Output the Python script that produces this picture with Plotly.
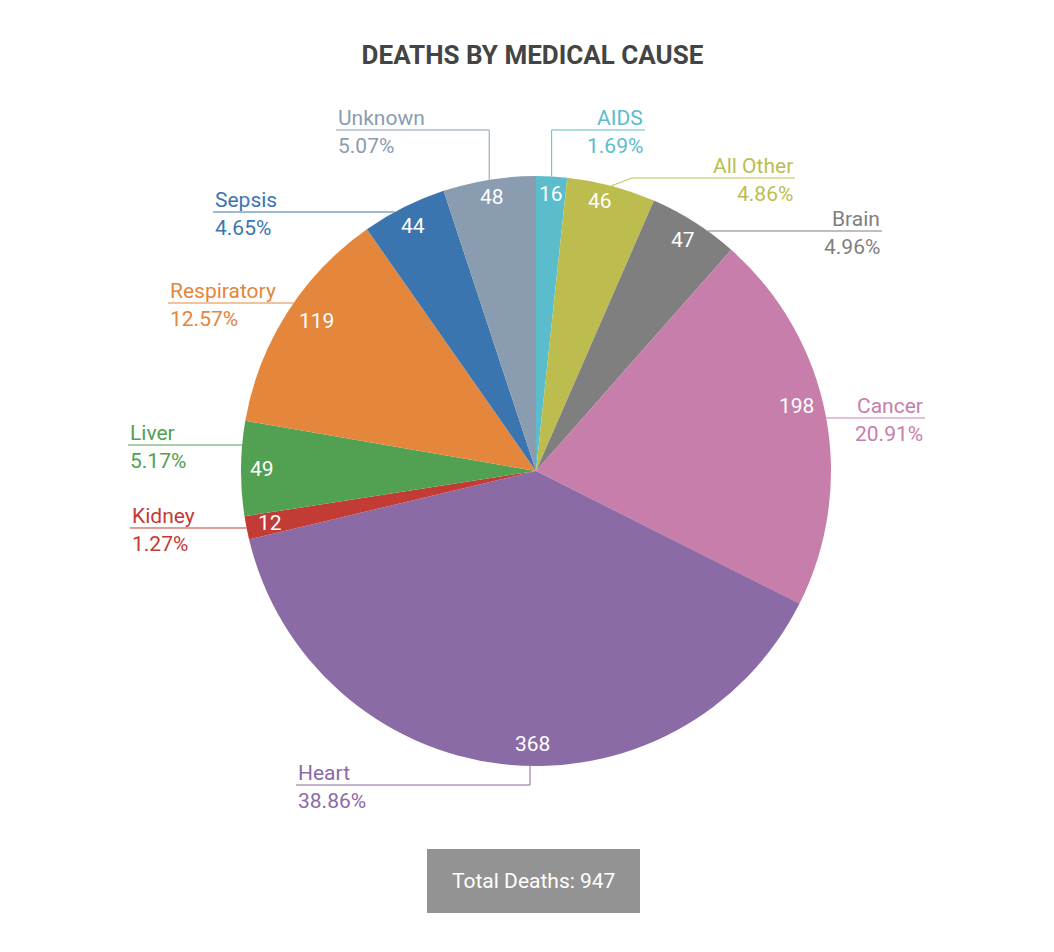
import math
import plotly.graph_objects as go

W, H = 1054, 952

# ---- data ----
categories = ["AIDS", "All Other", "Brain", "Cancer", "Heart", "Kidney",
              "Liver", "Respiratory", "Sepsis", "Unknown"]
values = [16, 46, 47, 198, 368, 12, 49, 119, 44, 48]
colors = ["#5bbccc", "#bdbd4f", "#7f7f7f", "#c87eab", "#8b6ba6", "#c23b35",
          "#52a052", "#e4863b", "#3a75b0", "#8a9caf"]
title_text = "DEATHS BY MEDICAL CAUSE"

# ---- layout / styling ----
CX, CY, R = 536, 471, 295          # pie centre and radius in px
value_rf = [0.94, 0.94, 0.93, 0.91, 0.925, 0.92, 0.93, 0.90, 0.93, 0.94]
value_angle_shift = [0, -1.5, 0, -3, -6, 0, 0, 2, 0, 0]
# side, text x (px), underline y (px), connector kind, anchor x override
label_layout = {
    "AIDS":        ("right", 645, 130, "vertical", None),
    "All Other":   ("right", 795, 178, "diagonal", 632),
    "Brain":       ("right", 882, 231, "horizontal", None),
    "Cancer":      ("right", 925, 418, "horizontal", None),
    "Heart":       ("left", 296, 785, "vertical", 530),
    "Kidney":      ("left", 130, 528, "horizontal", None),
    "Liver":       ("left", 128, 445, "horizontal", None),
    "Respiratory": ("left", 168, 303, "horizontal", None),
    "Sepsis":      ("left", 213, 212, "horizontal", None),
    "Unknown":     ("left", 336, 130, "vertical", None),
}
FONT = "Roboto"
FS = 21


def px(x):
    return x / W


def py(y):
    return 1 - y / H


total = sum(values)

fig = go.Figure(go.Pie(
    labels=categories, values=values, sort=False, direction="clockwise",
    rotation=0, marker=dict(colors=colors, line=dict(width=0)),
    textinfo="none", hoverinfo="label+value+percent", showlegend=False,
    domain=dict(x=[px(CX - R), px(CX + R)], y=[py(CY + R), py(CY - R)]),
))

annotations = []
shapes = []

cum = 0
for i, (cat, v) in enumerate(zip(categories, values)):
    a0 = cum / total * 360
    cum += v
    a1 = cum / total * 360
    mid = math.radians((a0 + a1) / 2)
    col = colors[i]
    # value inside slice
    va = math.radians((a0 + a1) / 2 + value_angle_shift[i])
    rr = value_rf[i] * R
    vx = CX + rr * math.sin(va)
    vy = CY - rr * math.cos(va)
    annotations.append(dict(x=px(vx), y=py(vy), xref="paper", yref="paper",
                            text=str(v), showarrow=False,
                            font=dict(family=FONT, size=FS, color="white"),
                            xanchor="center", yanchor="middle"))
    # outside label
    side, tx, ly, kind, ax_override = label_layout[cat]
    pct = f"{v / total * 100:.2f}%"
    xanchor = "left" if side == "left" else "right"
    annotations.append(dict(x=px(tx), y=py(ly + 2), xref="paper", yref="paper",
                            text=cat, showarrow=False,
                            font=dict(family=FONT, size=FS, color=col),
                            xanchor=xanchor, yanchor="bottom"))
    annotations.append(dict(x=px(tx), y=py(ly + 2), xref="paper", yref="paper",
                            text=pct, showarrow=False,
                            font=dict(family=FONT, size=FS, color=col),
                            xanchor=xanchor, yanchor="top"))
    # connectors
    if kind == "horizontal":
        dx = math.sqrt(max(R * R - (ly - CY) ** 2, 0))
        ex = CX - dx if side == "left" else CX + dx
        pts = [(tx, ly), (ex, ly)]
    elif kind == "vertical":
        axx = ax_override if ax_override is not None else CX + R * math.sin(mid)
        dy = math.sqrt(max(R * R - (axx - CX) ** 2, 0))
        ey = CY - dy if ly < CY else CY + dy
        pts = [(tx, ly), (axx, ly), (axx, ey)]
    else:  # diagonal
        ex = CX + R * math.sin(mid)
        ey = CY - R * math.cos(mid)
        pts = [(tx, ly), (ax_override, ly), (ex, ey)]
    path = "M " + " L ".join(f"{px(x):.5f},{py(y):.5f}" for x, y in pts)
    shapes.append(dict(type="path", path=path, xref="paper", yref="paper",
                       line=dict(color=col, width=1)))

# total box
shapes.append(dict(type="rect", xref="paper", yref="paper",
                   x0=px(427), x1=px(640), y0=py(913), y1=py(849),
                   fillcolor="#939393", line=dict(width=0), layer="above"))
annotations.append(dict(x=px(533.5), y=py(881), xref="paper", yref="paper",
                        text=f"Total Deaths: {total}", showarrow=False,
                        font=dict(family=FONT, size=FS, color="white"),
                        xanchor="center", yanchor="middle"))

fig.update_layout(
    width=W, height=H, margin=dict(l=0, r=0, t=0, b=0),
    paper_bgcolor="white", plot_bgcolor="white",
    title=dict(text=title_text, x=px(532.5), y=py(55), xanchor="center",
               yanchor="middle", xref="paper", yref="paper",
               font=dict(family=FONT, size=26, color="#444444", weight="bold")),
    annotations=annotations, shapes=shapes,
)

fig.write_html("out.html")
